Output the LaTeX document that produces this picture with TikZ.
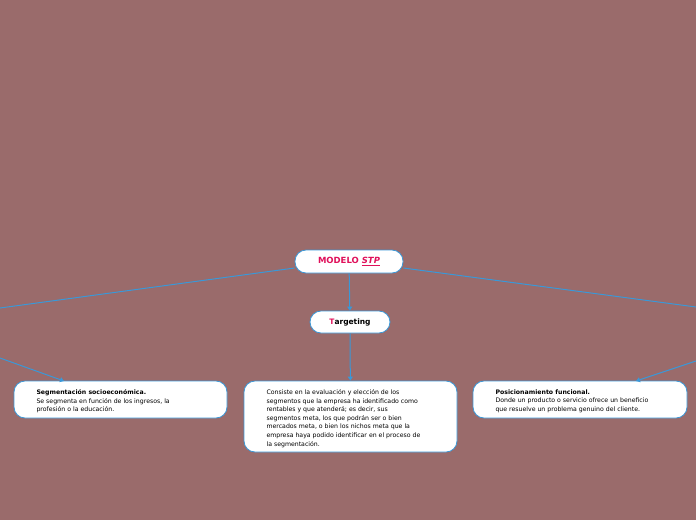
\documentclass[tikz,border=0pt]{standalone}
\usepackage{fontspec}
\setmainfont{DejaVu Sans}
\usetikzlibrary{arrows.meta}
\definecolor{bg}{HTML}{9A6B6B}
\definecolor{ln}{HTML}{3A98D8}
\definecolor{mag}{HTML}{E0105A}
\begin{document}
\begin{tikzpicture}[x=1pt,y=-1pt,
  box/.style={draw=ln,line width=0.8pt,fill=white,rounded corners=11pt,inner sep=0pt},
  conn/.style={draw=ln,line width=1pt},
  arr/.style={conn,-{Triangle[length=4pt,width=5pt]}},
  txt/.style={font=\fontsize{6.2}{8.6}\selectfont,align=left,anchor=north west}]
\fill[bg] (0,0) rectangle (696,520);
\useasboundingbox (0,0) rectangle (696,520);
\node[box,minimum width=108pt,minimum height=23pt] (m) at (349,261.5) {\fontsize{8.5}{10}\selectfont\bfseries\color{mag}MODELO \underline{\itshape STP}};
\node[box,minimum width=80pt,minimum height=22pt] (t) at (350,322) {\fontsize{7.5}{9}\selectfont\bfseries{\color{mag}T}argeting};
\node[box,minimum width=213pt,minimum height=37pt] (l) at (120.5,399.5) {};
\node[box,minimum width=213pt,minimum height=71pt] (c) at (350.5,416.5) {};
\node[box,minimum width=214pt,minimum height=37pt] (r) at (580,399.5) {};
\node[txt] at (33,386) {\textbf{Segmentación socioeconómica.}\\Se segmenta en función de los ingresos, la\\profesión o la educación.};
\node[txt] at (263,386) {Consiste en la evaluación y elección de los\\segmentos que la empresa ha identificado como\\rentables y que atenderá; es decir, sus\\segmentos meta, los que podrán ser o bien\\mercados meta, o bien los nichos meta que la\\empresa haya podido identificar en el proceso de\\la segmentación.};
\node[txt] at (492,386) {\textbf{Posicionamiento funcional.}\\Donde un producto o servicio ofrece un beneficio\\que resuelve un problema genuino del cliente.};
\coordinate (lo1) at (0,308);
\coordinate (ro1) at (696,307);
\coordinate (lo2) at (0,358);
\coordinate (ro2) at (696,361);
\draw[conn] (m.west|-0,268) -- (lo1);
\draw[conn] (m.east|-0,268) -- (ro1);
\draw[arr] (m) -- (t);
\draw[arr] (t) -- (c);
\draw[arr] (lo2) -- (64,381);
\draw[arr] (ro2) -- (636,381);
\draw[ln,line width=0.8pt] (-10,440) -- (-5,440) arc (90:0:4) -- (-1,454) arc (0:-90:4) -- (-10,458);
\end{tikzpicture}
\end{document}
